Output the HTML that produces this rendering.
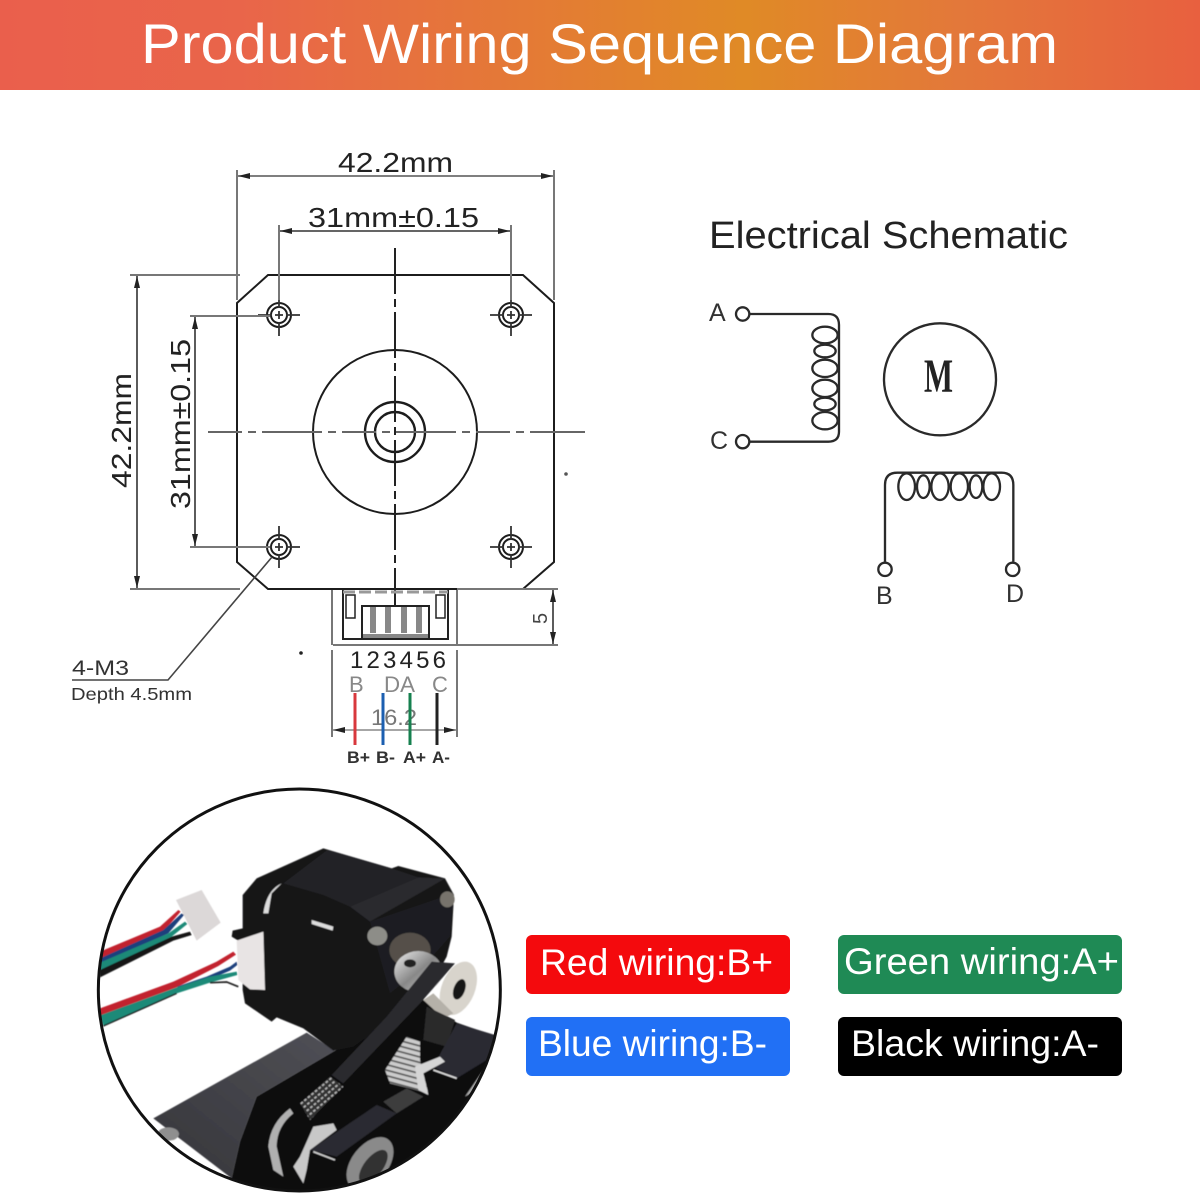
<!DOCTYPE html>
<html><head><meta charset="utf-8"><style>
html,body{margin:0;padding:0;background:#fff}
svg{display:block}
text{font-family:"Liberation Sans",sans-serif}
</style></head><body>
<svg xmlns="http://www.w3.org/2000/svg" width="1200" height="1200" viewBox="0 0 1200 1200">
<defs>
<linearGradient id="hd" x1="0" x2="1" y1="0" y2="0">
<stop offset="0" stop-color="#ea5f4c"/><stop offset=".2" stop-color="#e9654a"/><stop offset=".62" stop-color="#e08a26"/><stop offset=".8" stop-color="#e3783a"/><stop offset="1" stop-color="#e8603f"/>
</linearGradient>
<clipPath id="cp"><circle cx="628" cy="630" r="600"/></clipPath>
<marker id="ar" viewBox="0 0 12 6" refX="12" refY="3" markerWidth="12" markerHeight="6" markerUnits="userSpaceOnUse" orient="auto-start-reverse"><path d="M0 0L12 3L0 6z" fill="#222"/></marker>
<linearGradient id="sil" x1="0" x2="1" y1="0" y2="1"><stop offset="0" stop-color="#eee"/><stop offset=".5" stop-color="#888"/><stop offset="1" stop-color="#ddd"/></linearGradient>
<linearGradient id="pl" x1="0" x2="1" y1="1" y2="0"><stop offset="0" stop-color="#35353a"/><stop offset="1" stop-color="#505056"/></linearGradient>
<filter id="b1" filterUnits="userSpaceOnUse" x="0" y="100" width="1200" height="700"><feGaussianBlur stdDeviation=".25"/></filter>
<filter id="b2" filterUnits="userSpaceOnUse" x="0" y="0" width="1300" height="1300"><feGaussianBlur stdDeviation="1.8"/></filter>
<pattern id="sp" width="14" height="14" patternUnits="userSpaceOnUse" patternTransform="rotate(-40)"><rect width="14" height="14" fill="#333"/><rect width="8" height="5" fill="#bbb"/></pattern>
<pattern id="th" width="20" height="16" patternUnits="userSpaceOnUse" patternTransform="rotate(15)"><rect width="20" height="16" fill="#ccc"/><rect y="0" width="20" height="5" fill="#555"/></pattern>
</defs>
<rect width="1200" height="1200" fill="#fff"/>
<rect width="1200" height="90" fill="url(#hd)"/>
<text x="141" y="63" font-size="56" fill="#fff" textLength="917" lengthAdjust="spacingAndGlyphs">Product Wiring Sequence Diagram</text>

<g filter="url(#b1)">
<!-- motor outline -->
<g fill="none" stroke="#1c1c1c" stroke-width="2">
<path d="M268 275H523L554 303V562L523 589H268L237 562V303Z"/>
<circle cx="395" cy="432" r="82"/>
<circle cx="395" cy="432" r="30" stroke-width="2.4"/>
<circle cx="395" cy="432" r="20" stroke-width="2.4"/>
<g stroke-width="2">
<circle cx="279" cy="315" r="12"/><circle cx="279" cy="315" r="8"/>
<circle cx="511" cy="315" r="12"/><circle cx="511" cy="315" r="8"/>
<circle cx="279" cy="547" r="12"/><circle cx="279" cy="547" r="8"/>
<circle cx="511" cy="547" r="12"/><circle cx="511" cy="547" r="8"/>
</g>
</g>
<g fill="none">
<path d="M395 248V605" stroke="#222" stroke-width="2" stroke-dasharray="46 5 8 5"/>
<path d="M208 432H585" stroke="#666" stroke-width="2" stroke-dasharray="34 6 8 6 60 6 8 6"/>
<path d="M258 315H302M279 294V336M490 315H534M511 294V336M258 547H302M279 526V568M490 547H534M511 526V568" stroke="#333" stroke-width="1.8" stroke-dasharray="14 3 8 3"/>
</g>
<!-- dimension lines -->
<g stroke="#777" stroke-width="2" fill="none">
<path d="M237 170V300M554 170V300M279 225V300M511 225V300"/>
<path d="M130 275H240M130 589H240M190 316H270M190 547H270"/>
<path d="M333 645H558M457 589H558"/>
<path d="M332 590V645M457 590V645M332 650V737M457 650V737"/>
</g>
<g stroke="#333" stroke-width="1.6" fill="none">
<line x1="238" y1="176" x2="553" y2="176" marker-start="url(#ar)" marker-end="url(#ar)" stroke="#555"/>
<line x1="280" y1="231" x2="510" y2="231" marker-start="url(#ar)" marker-end="url(#ar)"/>
<line x1="137" y1="276" x2="137" y2="588" marker-start="url(#ar)" marker-end="url(#ar)"/>
<line x1="195" y1="317" x2="195" y2="546" marker-start="url(#ar)" marker-end="url(#ar)"/>
<line x1="553" y1="590" x2="553" y2="644" marker-start="url(#ar)" marker-end="url(#ar)"/>
<line x1="333" y1="730" x2="456" y2="730" marker-start="url(#ar)" marker-end="url(#ar)" stroke="#888"/>
<path d="M272 557L168 680H72" stroke="#444"/>
</g>
<text x="338" y="172" font-size="28" fill="#222" textLength="115" lengthAdjust="spacingAndGlyphs">42.2mm</text>
<text x="308" y="227" font-size="28" fill="#222" textLength="171" lengthAdjust="spacingAndGlyphs">31mm±0.15</text>
<text transform="translate(131,488) rotate(-90)" font-size="28" fill="#222" textLength="115" lengthAdjust="spacingAndGlyphs">42.2mm</text>
<text transform="translate(190,509) rotate(-90)" font-size="28" fill="#222" textLength="170" lengthAdjust="spacingAndGlyphs">31mm±0.15</text>
<text transform="translate(547,624) rotate(-90)" font-size="20" fill="#444">5</text>
<text x="72" y="675" font-size="21" fill="#333" textLength="57" lengthAdjust="spacingAndGlyphs">4-M3</text>
<text x="71" y="700" font-size="17.5" fill="#333" textLength="121" lengthAdjust="spacingAndGlyphs">Depth 4.5mm</text>

<!-- connector -->
<g fill="none" stroke="#222" stroke-width="2">
<path d="M343 590V639H448V590"/>
<rect x="362" y="606" width="67" height="32"/>
<rect x="346" y="595" width="9" height="23" stroke-width="1.5"/>
<rect x="436" y="595" width="9" height="23" stroke-width="1.5"/>
<path d="M343 592H448" stroke="#999" stroke-width="3" stroke-dasharray="12 4"/>
</g>
<g fill="#888"><rect x="370" y="607" width="6" height="26"/><rect x="385" y="607" width="6" height="26"/><rect x="401" y="607" width="6" height="26"/><rect x="416" y="607" width="6" height="26"/><rect x="363" y="634" width="65" height="4"/></g>
<text x="350" y="668" font-size="24" fill="#222" textLength="96" lengthAdjust="spacing">123456</text>
<text x="349" y="692" font-size="22" fill="#888">B</text>
<text x="384" y="692" font-size="22" fill="#888" textLength="31" lengthAdjust="spacingAndGlyphs">DA</text>
<text x="432" y="692" font-size="22" fill="#888">C</text>
<text x="371" y="725" font-size="22" fill="#777" textLength="46" lengthAdjust="spacingAndGlyphs">16.2</text>
<g stroke-width="3"><path d="M355 693V745" stroke="#d8383d"/><path d="M383 693V745" stroke="#1f5fb0"/><path d="M410 693V745" stroke="#128050"/><path d="M437 693V745" stroke="#222"/></g>
<g font-size="16.5" fill="#333" font-weight="bold"><text x="347" y="763" textLength="23" lengthAdjust="spacingAndGlyphs">B+</text><text x="376" y="763" textLength="19" lengthAdjust="spacingAndGlyphs">B-</text><text x="403" y="763" textLength="23" lengthAdjust="spacingAndGlyphs">A+</text><text x="432" y="763" textLength="18" lengthAdjust="spacingAndGlyphs">A-</text></g>
<circle cx="566" cy="474" r="1.8" fill="#555"/><circle cx="301" cy="653" r="1.8" fill="#222"/>

<!-- schematic -->
<text x="709" y="248" font-size="38" fill="#222" textLength="359" lengthAdjust="spacingAndGlyphs">Electrical Schematic</text>
<g transform="translate(690,290) scale(.33333)" fill="none" stroke="#2a2a2a" stroke-width="7">
<path d="M178 72H415Q447 72 447 105V425Q447 455 415 455H178"/>
<circle cx="158" cy="72" r="20"/><circle cx="158" cy="455" r="20"/>
<ellipse cx="405" cy="135" rx="38" ry="25"/><ellipse cx="405" cy="183" rx="32" ry="19"/><ellipse cx="405" cy="235" rx="38" ry="26"/><ellipse cx="405" cy="295" rx="38" ry="26"/><ellipse cx="405" cy="342" rx="32" ry="19"/><ellipse cx="405" cy="392" rx="38" ry="26"/>
<circle cx="750" cy="268" r="168"/>
<path d="M585 815V585Q585 548 622 548H935Q970 548 970 585V815"/>
<circle cx="585" cy="838" r="20"/><circle cx="968" cy="838" r="20"/>
<ellipse cx="650" cy="590" rx="25" ry="40"/><ellipse cx="700" cy="590" rx="19" ry="34"/><ellipse cx="750" cy="590" rx="26" ry="40"/><ellipse cx="808" cy="590" rx="26" ry="40"/><ellipse cx="858" cy="590" rx="19" ry="34"/><ellipse cx="905" cy="590" rx="25" ry="40"/>
</g>
<text x="924" y="392" font-size="48" font-weight="bold" fill="#222" style="font-family:'Liberation Serif',serif" textLength="29" lengthAdjust="spacingAndGlyphs">M</text>
<g font-size="25" fill="#333"><text x="709" y="321">A</text><text x="710" y="449">C</text><text x="876" y="604">B</text><text x="1006" y="602">D</text></g>
</g>

<!-- photo -->
<g transform="translate(90,780) scale(.33333)">
<g clip-path="url(#cp)">
<g filter="url(#b2)">
<!-- grey plate -->
<path d="M190 1015L650 758L735 812L500 950L450 1085L425 1195Z" fill="url(#pl)"/>
<ellipse cx="235" cy="1062" rx="32" ry="20" fill="#8f8f8f"/>
<!-- black base -->
<path d="M1000 660L1100 728L1215 768L1270 800V1270H420L425 1195L450 1085L500 950L735 812L900 720Z" fill="#0e0e10"/>
<!-- motor -->
<path d="M458 345L500 295L700 205L905 265L925 258L1065 295L1092 345L1085 470L1070 530L1000 660L900 720L790 800L730 812L640 745L560 712L545 725L465 670L458 630V490L425 470L428 452L458 445Z" fill="#161618"/>
<path d="M580 310L712 210L905 265L985 292L780 380L700 345Z" fill="#242427"/>
<path d="M780 380L985 292L1065 296L840 425Z" fill="#2a2a2d"/>
<path d="M840 425L1090 340L1080 470L1000 560L900 640Z" fill="#1e1e20"/>
<path d="M520 400Q530 330 575 310L545 340L535 400Z" fill="#ddd"/>
<path d="M665 420L730 440L728 452L665 432Z" fill="#ddd"/>
<ellipse cx="862" cy="468" rx="30" ry="28" fill="#8d8d88"/><ellipse cx="1072" cy="358" rx="22" ry="24" fill="#77736c"/>
<ellipse cx="960" cy="510" rx="62" ry="52" fill="#55504a"/>
<ellipse cx="985" cy="575" rx="72" ry="62" fill="url(#sil)"/>
<ellipse cx="960" cy="550" rx="18" ry="12" fill="#222"/>
<!-- washer -->
<ellipse cx="1105" cy="625" rx="50" ry="84" transform="rotate(22 1105 625)" fill="#d8d4cc"/>
<ellipse cx="1108" cy="628" rx="17" ry="32" transform="rotate(20 1108 628)" fill="#151515"/>
<path d="M1000 660L1030 640L1090 700L1060 715Z" fill="#b5b1a9"/>
<path d="M1010 680L1095 720L1070 800L1000 780Z" fill="#2b2b2b"/>
<!-- block right -->
<path d="M1030 860L1100 730L1215 765L1190 840L1100 895Z" fill="#2a2a33"/>
<path d="M1030 870L1100 895" stroke="#ddd" stroke-width="5" fill="none"/>
<path d="M1125 950L1180 870L1160 930Z" fill="#aaa"/>
<!-- belt -->
<path d="M1025 545L1095 550L990 670L760 910L725 885L890 710Z" fill="#29292d"/>
<path d="M630 970L720 890L760 920L660 1020Z" fill="url(#sp)"/>
<!-- toothed pulley -->
<path d="M885 870L950 770L990 785L990 840L1015 940L960 925L900 910Z" fill="url(#th)"/>
<path d="M975 860L1050 830L1065 845L1000 880L1015 945L985 930Z" fill="#d5d5d5"/>
<path d="M880 965L950 925L1000 950L920 1000Z" fill="#3c3c3c"/>
<!-- lower block -->
<path d="M660 1110L860 975L920 1000L740 1130Z" fill="#2c2c30"/>
<path d="M670 1115L735 1140" stroke="#ccc" stroke-width="5" fill="none"/>
<!-- bearings / crescents -->
<path d="M630 1130L670 1040L730 1030L740 1050L660 1110L650 1170L640 1210L610 1160Z" fill="#c8c8c8"/>
<path d="M535 1100Q540 1030 600 985L610 1000Q560 1040 560 1100L580 1190L550 1170Z" fill="#b0b0b0"/>
<ellipse cx="840" cy="1150" rx="55" ry="90" transform="rotate(38 840 1150)" fill="#8a8a8a"/>
<ellipse cx="850" cy="1160" rx="28" ry="60" transform="rotate(38 850 1160)" fill="#333"/>
<!-- connector 1 and wires -->
<path d="M258 360L335 330L392 428L320 482Z" fill="#dcd8d8"/>
<path d="M30 515L210 440L265 390L272 395L220 455L30 537Z" fill="#c2242f"/>
<path d="M30 535L220 450L275 400L282 405L235 460L30 556Z" fill="#1a3f7d"/>
<path d="M30 548L235 460L285 425L292 432L245 470L30 576Z" fill="#1d8a78"/>
<path d="M30 570L245 470L300 455L305 465L250 482L30 592Z" fill="#131313"/>
<!-- connector 2 and wires -->
<path d="M440 482L520 455L525 630L480 628L445 600Z" fill="#e8e4e4"/>
<path d="M30 685L250 605L380 545L430 515L438 524L385 558L260 622L30 707Z" fill="#c2242f"/>
<path d="M260 620L350 590L420 560L440 545L442 555L420 572L350 602L280 625Z" fill="#1a3f7d"/>
<path d="M30 706L260 622L360 590L440 575L442 585L360 608L260 640L40 738Z" fill="#1d8a78"/>
<path d="M360 608L410 606L445 620" stroke="#222" stroke-width="5" fill="none"/>
<path d="M40 738L260 640" stroke="#1a1a1a" stroke-width="4" fill="none"/>
</g>
</g>
<circle cx="628" cy="630" r="603" fill="none" stroke="#111" stroke-width="9"/>
</g>

<!-- legend -->
<rect x="526" y="935" width="264" height="59" rx="6" fill="#f40a0d"/>
<rect x="838" y="935" width="284" height="59" rx="6" fill="#1f8a55"/>
<rect x="526" y="1017" width="264" height="59" rx="6" fill="#2170f5"/>
<rect x="838" y="1017" width="284" height="59" rx="6" fill="#000"/>
<g font-size="37" fill="#fff">
<text x="540" y="975" textLength="233" lengthAdjust="spacingAndGlyphs">Red wiring:B+</text>
<text x="844" y="974" textLength="275" lengthAdjust="spacingAndGlyphs">Green wiring:A+</text>
<text x="538" y="1056" textLength="229" lengthAdjust="spacingAndGlyphs">Blue wiring:B-</text>
<text x="851" y="1056" textLength="248" lengthAdjust="spacingAndGlyphs">Black wiring:A-</text>
</g>
</svg>
</body></html>
